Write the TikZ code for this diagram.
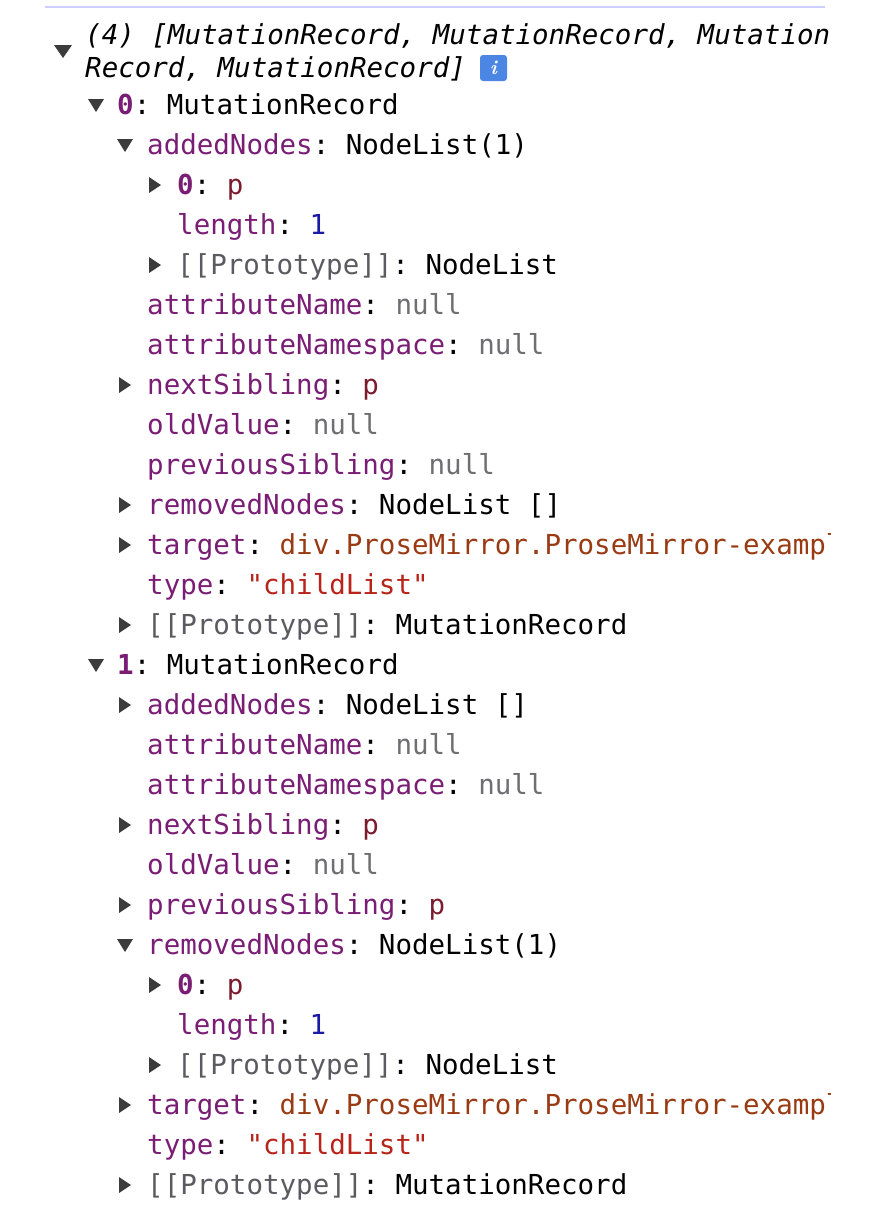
\documentclass[tikz,border=0pt]{standalone}
\usepackage{fontspec}
\setmonofont{DejaVu Sans Mono}
\definecolor{key}{HTML}{7A1D74}
\definecolor{idx}{HTML}{7A1D74}
\definecolor{pval}{HTML}{7A1C2E}
\definecolor{nul}{HTML}{6E6E73}
\definecolor{num}{HTML}{1A1AA6}
\definecolor{str}{HTML}{B8231A}
\definecolor{brn}{HTML}{9A3A12}
\definecolor{proto}{HTML}{5A5A60}
\definecolor{tri}{HTML}{3C3C3C}
\definecolor{infob}{HTML}{4B86E4}
\newcommand{\K}[1]{\textcolor{key}{#1}}
\newcommand{\I}[1]{\textcolor{idx}{\bfseries #1}}
\newcommand{\Pv}{\textcolor{pval}{p}}
\newcommand{\Nu}{\textcolor{nul}{null}}
\newcommand{\Prt}{\textcolor{proto}{[[Prototype]]}}
\newcommand{\Dn}[2]{\fill[tri] (#1,#2-6) -- (#1+16,#2-6) -- (#1+8,#2+7) -- cycle;}
\newcommand{\Rt}[2]{\fill[tri] (#1,#2-8) -- (#1+12,#2) -- (#1,#2+8) -- cycle;}
\tikzset{ln/.style={anchor=base west,inner sep=0pt,font=\ttfamily\fontsize{27.5}{33}\selectfont}}
\begin{document}
\begin{tikzpicture}[x=1pt,y=-1pt]
\useasboundingbox[fill=white] (0,0) rectangle (896,1216);
\draw[color=blue!20,line width=1.5pt] (45,7) -- (825,7);
\begin{scope}
\clip (0,0) rectangle (830,1216);
\fill[tri] (54,45) -- (72,45) -- (63,58) -- cycle;
\node[ln] (h1) at (85,44) {\itshape (4) [MutationRecord, MutationRecord, Mutation};
\node[ln] (h2) at (85,77) {\itshape Record, MutationRecord]};
\fill[infob,rounded corners=3pt] (480,55) rectangle (507,81);
\node[inner sep=0pt,text=white,font=\bfseries\itshape\fontsize{20}{20}\selectfont] (info) at (493.5,68) {i};
% record 0
\Dn{88}{105} \node[ln] (a0) at (117,114) {\I{0}: MutationRecord};
\Dn{117}{145} \node[ln] (a1) at (147,154) {\K{addedNodes}: NodeList(1)};
\Rt{149}{185} \node[ln] (a2) at (177,194) {\I{0}: \Pv};
\node[ln] (a3) at (177,234) {\K{length}: \textcolor{num}{1}};
\Rt{149}{265} \node[ln] (a4) at (177,274) {\Prt: NodeList};
\node[ln] (a5) at (147,314) {\K{attributeName}: \Nu};
\node[ln] (a6) at (147,354) {\K{attributeNamespace}: \Nu};
\Rt{119}{385} \node[ln] (a7) at (147,394) {\K{nextSibling}: \Pv};
\node[ln] (a8) at (147,434) {\K{oldValue}: \Nu};
\node[ln] (a9) at (147,474) {\K{previousSibling}: \Nu};
\Rt{119}{505} \node[ln] (a10) at (147,514) {\K{removedNodes}: NodeList []};
\Rt{119}{545} \node[ln] (a11) at (147,554) {\K{target}: \textcolor{brn}{div.ProseMirror.ProseMirror-example-setup}};
\node[ln] (a12) at (147,594) {\K{type}: \textcolor{str}{"childList"}};
\Rt{119}{625} \node[ln] (a13) at (147,634) {\Prt: MutationRecord};
% record 1
\Dn{88}{665} \node[ln] (b0) at (117,674) {\I{1}: MutationRecord};
\Rt{119}{705} \node[ln] (b1) at (147,714) {\K{addedNodes}: NodeList []};
\node[ln] (b2) at (147,754) {\K{attributeName}: \Nu};
\node[ln] (b3) at (147,794) {\K{attributeNamespace}: \Nu};
\Rt{119}{825} \node[ln] (b4) at (147,834) {\K{nextSibling}: \Pv};
\node[ln] (b5) at (147,874) {\K{oldValue}: \Nu};
\Rt{119}{905} \node[ln] (b6) at (147,914) {\K{previousSibling}: \Pv};
\Dn{117}{945} \node[ln] (b7) at (147,954) {\K{removedNodes}: NodeList(1)};
\Rt{149}{985} \node[ln] (b8) at (177,994) {\I{0}: \Pv};
\node[ln] (b9) at (177,1034) {\K{length}: \textcolor{num}{1}};
\Rt{149}{1065} \node[ln] (b10) at (177,1074) {\Prt: NodeList};
\Rt{119}{1105} \node[ln] (b11) at (147,1114) {\K{target}: \textcolor{brn}{div.ProseMirror.ProseMirror-example-setup}};
\node[ln] (b12) at (147,1154) {\K{type}: \textcolor{str}{"childList"}};
\Rt{119}{1185} \node[ln] (b13) at (147,1194) {\Prt: MutationRecord};
\end{scope}
\end{tikzpicture}
\end{document}
